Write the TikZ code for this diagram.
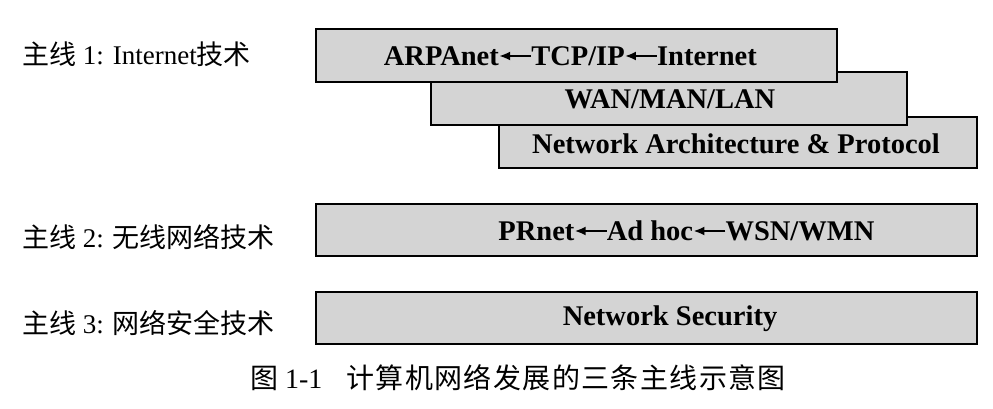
\documentclass[tikz,border=0pt]{standalone}
\usepackage{fontspec}
\setmainfont{Liberation Serif}
\newfontfamily\cjk{Noto Sans CJK SC}
\usetikzlibrary{arrows.meta}
\begin{document}
\begin{tikzpicture}[x=1pt,y=-1pt,
  band/.style={draw=black,line width=2pt,fill=black!17},
  btext/.style={font=\fontsize{28.5}{30}\selectfont\bfseries,inner sep=0pt},
  lab/.style={anchor=west,font=\fontsize{27}{29}\selectfont,inner sep=0pt},
  larr/.style={line width=2.4pt,-{Latex[length=11pt,width=9pt]}}]
\useasboundingbox (0,0) rectangle (993,409);
\draw[band] (499,117) rectangle (977,168);
\draw[band] (431,72) rectangle (907,125);
\draw[band] (316,29) rectangle (837,82);
\draw[band] (316,204) rectangle (977,256);
\draw[band] (316,292) rectangle (977,344);
% row 1
\node[btext] (tcp) at (578,56) {TCP/IP};
\node[btext,anchor=east] (arp) at ([xshift=-32pt]tcp.west) {ARPAnet};
\node[btext,anchor=west] (inet) at ([xshift=32pt]tcp.east) {Internet};
\draw[larr] (tcp.west) -- (arp.east);
\draw[larr] (inet.west) -- (tcp.east);
\node[btext] (wan) at (670,99) {WAN/MAN/LAN};
\node[btext] (arch) at (736,144) {Network Architecture \& Protocol};
% row 2
\node[btext] (adhoc) at (650,231) {Ad hoc};
\node[btext,anchor=east] (pr) at ([xshift=-32pt]adhoc.west) {PRnet};
\node[btext,anchor=west] (wsn) at ([xshift=32pt]adhoc.east) {WSN/WMN};
\draw[larr] (adhoc.west) -- (pr.east);
\draw[larr] (wsn.west) -- (adhoc.east);
% row 3
\node[btext] (sec) at (670,319) {Network Security};
% labels
\node[lab] (l1) at (22,54) {{\cjk 主线} 1: Internet{\cjk 技术}};
\node[lab] (l2) at (22,237) {{\cjk 主线} 2: {\cjk 无线网络技术}};
\node[lab] (l3) at (22,323) {{\cjk 主线} 3: {\cjk 网络安全技术}};
\node[font=\fontsize{28}{30}\selectfont,inner sep=0pt] (cap) at (518,378) {{\cjk 图} 1-1\hspace{24pt}{\cjk\addfontfeature{LetterSpace=5} 计算机网络发展的三条主线示意图}};
\end{tikzpicture}
\end{document}
